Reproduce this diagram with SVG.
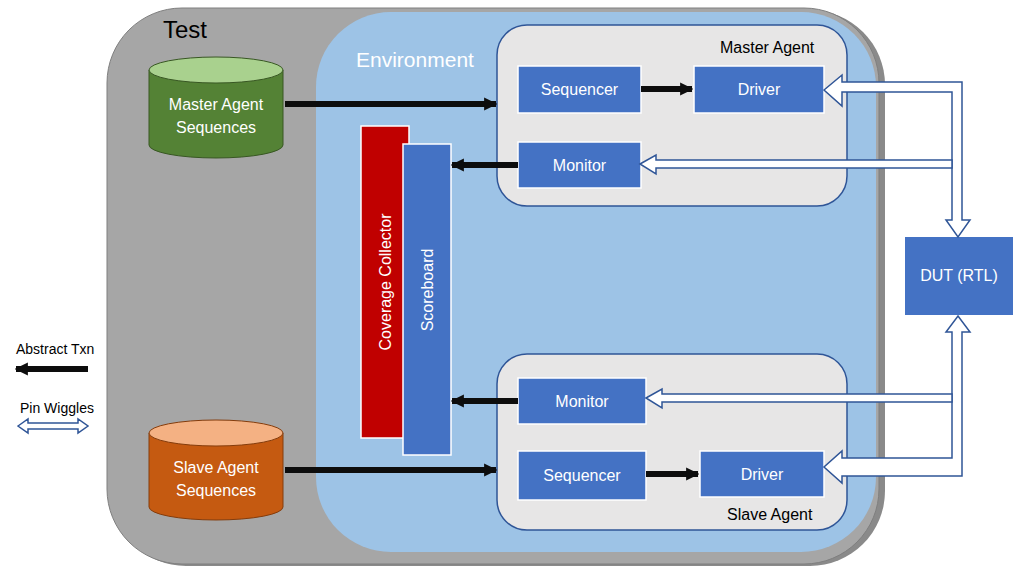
<svg xmlns="http://www.w3.org/2000/svg" width="1024" height="572" viewBox="0 0 1024 572">
<style>
text{font-family:"Liberation Sans",Arial,sans-serif}
.blk{fill:#4472c4;stroke:#fff;stroke-width:1.5}
.wt{fill:#fff;font-size:16px}
.bt{fill:#000;font-size:16px}
.txn{stroke:#0d0d0d;stroke-width:6;fill:none;marker-end:url(#ah)}
.pin{fill:#fff;stroke:#2f5597;stroke-width:1.5}
.agent{fill:#e7e6e6;stroke:#2f5597;stroke-width:1.5}
</style>
<defs>
<marker id="ah" viewBox="0 0 10 10" refX="9" refY="5" markerWidth="2.2" markerHeight="2.4" orient="auto"><path d="M0,0L10,5L0,10z" fill="#0d0d0d"/></marker>
</defs>
<g id="test">
<rect x="111" y="10" width="774" height="556" rx="75" fill="#8a8a8a"/>
<rect x="107" y="8" width="772" height="556" rx="75" fill="#a6a6a6" stroke="#7f7f7f"/>
<text x="163" y="38" font-size="24" fill="#000">Test</text>
</g>
<g id="environment">
<rect x="316" y="12" width="560" height="540" rx="75" fill="#9dc3e6"/>
<text x="356" y="67" font-size="21" fill="#fff">Environment</text>
</g>
<g id="master-agent">
<rect class="agent" x="497" y="25" width="350" height="181" rx="30"/>
<text class="bt" x="720" y="53">Master Agent</text>
</g>
<g id="slave-agent">
<rect class="agent" x="497" y="354" width="350" height="176" rx="30"/>
<text class="bt" x="727" y="520">Slave Agent</text>
</g>
<g id="m-seq"><rect class="blk" x="518" y="66" width="123" height="47"/><text class="wt" x="579.5" y="95" text-anchor="middle">Sequencer</text></g>
<g id="m-drv"><rect class="blk" x="694" y="66" width="130" height="47"/><text class="wt" x="759" y="95" text-anchor="middle">Driver</text></g>
<g id="m-mon"><rect class="blk" x="518" y="142" width="123" height="46"/><text class="wt" x="579.5" y="171" text-anchor="middle">Monitor</text></g>
<g id="s-mon"><rect class="blk" x="518" y="378" width="128" height="46"/><text class="wt" x="582" y="407" text-anchor="middle">Monitor</text></g>
<g id="s-seq"><rect class="blk" x="518" y="451" width="128" height="49"/><text class="wt" x="582" y="481" text-anchor="middle">Sequencer</text></g>
<g id="s-drv"><rect class="blk" x="700" y="451" width="124" height="46"/><text class="wt" x="762" y="480" text-anchor="middle">Driver</text></g>
<g id="coverage"><rect x="361" y="126" width="48" height="312" fill="#c00000" stroke="#fff" stroke-width="1.5"/><text class="wt" transform="translate(391,282) rotate(-90)" text-anchor="middle">Coverage Collector</text></g>
<g id="scoreboard"><rect class="blk" x="403" y="144" width="48" height="311"/><text class="wt" transform="translate(433,290) rotate(-90)" text-anchor="middle">Scoreboard</text></g>
<g id="dut"><rect x="905" y="237" width="108" height="78" fill="#4472c4"/><text class="wt" x="959" y="281" text-anchor="middle">DUT (RTL)</text></g>
<g id="master-seqs">
<path d="M149,70 V145 A67,13 0 0 0 283,145 V70" fill="#548235" stroke="#385723"/>
<ellipse cx="216" cy="70" rx="67" ry="13" fill="#a9d18e" stroke="#385723"/>
<text class="wt" x="216" y="110" text-anchor="middle">Master Agent</text>
<text class="wt" x="216" y="133" text-anchor="middle">Sequences</text>
</g>
<g id="slave-seqs">
<path d="M149,433 V507 A67,13 0 0 0 283,507 V433" fill="#c55a11" stroke="#843c0c"/>
<ellipse cx="216" cy="433" rx="67" ry="13" fill="#f4b183" stroke="#843c0c"/>
<text class="wt" x="216" y="473" text-anchor="middle">Slave Agent</text>
<text class="wt" x="216" y="496" text-anchor="middle">Sequences</text>
</g>
<g id="connectors">
<line class="txn" x1="285" y1="104" x2="496" y2="104"/>
<line class="txn" x1="641" y1="89" x2="692" y2="89"/>
<line class="txn" x1="518" y1="165" x2="452" y2="165"/>
<line class="txn" x1="518" y1="401" x2="452" y2="401"/>
<line class="txn" x1="285" y1="470" x2="496" y2="470"/>
<line class="txn" x1="646" y1="474" x2="698" y2="474"/>
<polygon class="pin" points="824,90 842,75 842,82 962,82 962,220 970,220 958,237 946,220 952,220 952,92 842,92 842,106"/>
<polygon class="pin" points="640,164 656,155 656,160 952,160 952,168 656,168 656,174"/>
<polygon class="pin" points="958,316 970,332 962,332 962,476 842,476 842,483 824,467 842,451 842,458 952,458 952,332 946,332"/>
<polygon class="pin" points="646,398 662,389 662,394 952,394 952,402 662,402 662,408"/>
<line class="txn" x1="88" y1="369" x2="16" y2="369"/>
<polygon class="pin" points="18,426 28,419 28,423 78,423 78,419 88,426 78,433 78,429 28,429 28,433"/>
</g>
<text class="bt" x="16" y="354" font-size="14" style="font-size:14px">Abstract Txn</text>
<text class="bt" x="20" y="413" style="font-size:14px">Pin Wiggles</text>
</svg>
